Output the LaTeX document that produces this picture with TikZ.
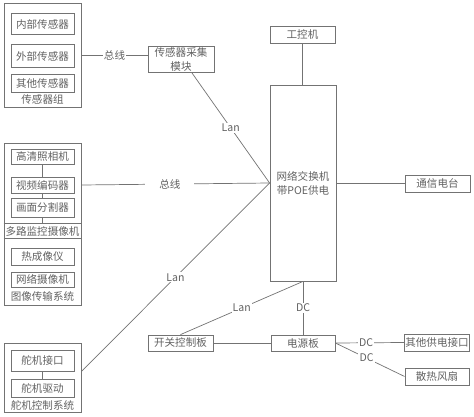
\documentclass[tikz,border=0pt]{standalone}
\usepackage{fontspec}
\newfontfamily\cjk{Noto Sans CJK SC}
\begin{document}
\begin{tikzpicture}[x=0.03cm, y=-0.03cm,
    every node/.style={font=\cjk\fontsize{9}{12}\selectfont, text=black!62},
    box/.style={draw=black!55, line width=0.7pt, inner sep=1pt, minimum width=1.92cm, minimum height=0.5cm},
    grp/.style={draw=black!55, line width=0.7pt, inner sep=0pt, minimum width=2.31cm},
    tag/.style={fill=white, inner sep=1pt},
    wire/.style={draw=black!55, line width=0.6pt}]

        % Frame
        \useasboundingbox (0,0) rectangle (474,416);

        % Sensor group
        \node[grp, minimum height=3.12cm] (sgroup) at (42.5,55) {};
        \node[box, minimum width=1.89cm, minimum height=0.63cm] (sinner) at (42.5,24) {内部传感器};
        \node[box, minimum width=1.89cm, minimum height=0.69cm] (souter) at (42.5,56) {外部传感器};
        \node[box, minimum width=1.89cm, minimum height=0.54cm] (sother) at (42.5,83) {其他传感器};
        \node (sname) at (42.5,99) {传感器组};

        % Image transmission system
        \node[grp, minimum height=4.86cm] (igroup) at (42.5,224) {};
        \node[box, minimum width=1.89cm, minimum height=0.45cm] (cam) at (42.5,157) {高清照相机};
        \node[box, minimum width=1.89cm, minimum height=0.48cm] (venc) at (42.5,185) {视频编码器};
        \node[box, minimum width=1.89cm, minimum height=0.57cm] (split) at (42.5,207.5) {画面分割器};
        \coordinate (bandA) at (42.5,223);
        \coordinate (bandB) at (42.5,238);
        \draw[wire] (igroup.west |- bandA) -- (igroup.east |- bandA);
        \draw[wire] (igroup.west |- bandB) -- (igroup.east |- bandB);
        \node (mcam) at (42.5,231) {多路监控摄像机};
        \node[box, minimum width=1.89cm, minimum height=0.51cm] (thermal) at (42.5,256.5) {热成像仪};
        \node[box, minimum width=1.89cm, minimum height=0.45cm] (netcam) at (42.5,279.5) {网络摄像机};
        \node (iname) at (42.5,296) {图像传输系统};
        \draw[wire] (cam) -- (venc);
        \draw[wire] (venc) -- (split);
        \draw[wire] (split) -- (split.south |- bandA);

        % Servo control system
        \node[grp, minimum height=2.07cm] (servo) at (42.5,377.5) {};
        \node[box, minimum width=1.89cm, minimum height=0.63cm] (sport) at (42.5,360.5) {舵机接口};
        \node[box, minimum width=1.89cm, minimum height=0.54cm] (sdrive) at (42.5,388) {舵机驱动};
        \node (vname) at (42.5,405) {舵机控制系统};
        \draw[wire] (sport) -- (sdrive);

        % Central units
        \node[box, minimum width=1.98cm, minimum height=0.75cm, align=center] (module) at (181,59.5) {传感器采集\\模块};
        \node[box, minimum width=1.95cm, minimum height=0.51cm] (ipc) at (302.5,34.5) {工控机};
        \node[box, minimum width=1.98cm, minimum height=5.88cm, align=center] (switch) at (303,183) {网络交换机\\带POE供电};
        \node[box, minimum width=1.95cm, minimum height=0.51cm] (radio) at (437.5,183.5) {通信电台};
        \node[box, minimum width=1.95cm, minimum height=0.48cm] (ctrl) at (180.5,343) {开关控制板};
        \node[box, minimum height=0.48cm] (power) at (303,343) {电源板};
        \node[box, minimum height=0.51cm] (otherpw) at (437,342.5) {其他供电接口};
        \node[box, minimum height=0.51cm] (fan) at (437,376.5) {散热风扇};

        % Links to the switch
        \coordinate (hub) at (switch.west);
        \draw[wire] (sgroup.east) -- (sgroup.east -| module.west) node[tag, midway] {总线};
        \draw[wire] ([xshift=0.33cm]module.south) -- (hub) node[tag, midway] {Lan};
        \draw[wire] (igroup.east |- venc) -- (hub) node[tag, inner xsep=12pt, pos=0.47] {总线};
        \draw[wire] (servo.east |- sport.south) -- (hub) node[tag, midway] {Lan};
        \draw[wire] (ipc) -- (ipc |- switch.north);
        \draw[wire] (switch.east |- radio) -- (radio);

        % Power links
        \draw[wire] (switch) -- (power) node[tag, midway] {DC};
        \draw[wire] (ctrl.north) -- (switch.south) node[tag, midway] {Lan};
        \draw[wire] (ctrl) -- (power);
        \draw[wire] (power.east) -- (otherpw.west) node[tag, pos=0.45] {DC};
        \draw[wire] (power.east) -- (fan.west) node[tag, pos=0.45] {DC};

    \end{tikzpicture}
\end{document}
